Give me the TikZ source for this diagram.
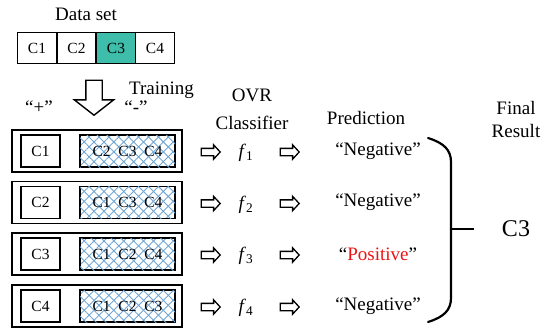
\documentclass[tikz,border=0pt]{standalone}
\usepackage{fontspec}
\setmainfont{Liberation Serif}
\usetikzlibrary{shapes.arrows,patterns.meta}

\definecolor{cellteal}{RGB}{62,189,171}
\definecolor{hatchblue}{RGB}{110,165,212}
\definecolor{posred}{RGB}{235,20,20}

\begin{document}
\begin{tikzpicture}[
        x=1pt, y=-1pt,
        big/.style={font=\fontsize{19}{23}\selectfont},
        cell/.style={draw, line width=1.2pt, minimum width=39pt, minimum height=31pt,
            inner sep=0pt, font=\fontsize{15.5}{16}\selectfont},
        outer/.style={draw, line width=1.4pt, minimum width=170pt, minimum height=42pt, inner sep=0pt},
        posbox/.style={cell, line width=1.4pt, minimum height=32pt},
        negbox/.style={cell, line width=1.4pt, minimum width=95pt, minimum height=32pt,
            pattern={Lines[angle=45, distance=7pt, line width=.9pt]}, pattern color=hatchblue,
            postaction={pattern={Lines[angle=-45, distance=7pt, line width=.9pt]}, pattern color=hatchblue}},
        openarrow/.style={single arrow, draw, line width=1.3pt, inner xsep=0pt, inner ysep=3pt,
            minimum height=19pt, single arrow head extend=3.5pt, single arrow tip angle=95},
        brace/.style={line width=2.2pt, line cap=round},
    ]
    \useasboundingbox (0,0) rectangle (550,335);

    %% the data set, split into four classes
    \node[big] (dataset) at (86,14) {Data set};
    \foreach \c/\x in {1/37, 2/76.5, 3/116, 4/155}{
        \node[cell] (cell\c) at (\x,48) {C\c};
    }
    \node[cell, fill=cellteal] at (cell3) {C3};

    %% training step
    \node[single arrow, draw, line width=1.4pt, inner xsep=0pt, inner ysep=7.5pt, rotate=-90,
        minimum height=35pt, single arrow head extend=11.5pt, single arrow tip angle=104] (train) at (94,94.5) {};
    \node[big] (trainlbl) at (161.5,90) {Training};
    \node[big] (plus) at (39,107) {``+''};
    \node[big] (minus) at (136,107) {``-''};

    %% column titles
    \node[big, align=center, font=\fontsize{19}{28}\selectfont] (ovr) at (252,109) {OVR\\Classifier};
    \node[big] (predlbl) at (366,118) {Prediction};
    \node[big, align=center] (finallbl) at (516,119.5) {Final\\Result};

    %% one row per class: this class against the rest
    \foreach \i/\yy/\rest/\pred in {
            1/151/{C2\enspace C3\enspace C4}/{``Negative''},
            2/202.5/{C1\enspace C3\enspace C4}/{``Negative''},
            3/254/{C1\enspace C2\enspace C4}/{``\textcolor{posred}{Positive}''},
            4/306/{C1\enspace C2\enspace C3}/{``Negative''}}{
        \node[outer] (row\i) at (97,\yy) {};
        \node[posbox] (pos\i) at (40.5,\yy) {C\i};
        \node[negbox] (neg\i) at (127.5,\yy) {\rest};
        \node[openarrow] (in\i) at (209,\yy+1) {};
        \node[big] (f\i) at (246,\yy+2) {\textit{f}\textsubscript{\i}};
        \node[openarrow] (out\i) at (288,\yy+1) {};
        \node[big] (pred\i) at (378,\yy) {\pred};
    }

    %% the brace joins the four predictions into one answer
    \coordinate (bmid) at (451,229);
    \draw[brace] (428,138) .. controls (444,143) and (451,150) .. (451,162)
        -- (451,298) .. controls (451,310) and (444,317) .. (428,322);
    \draw[brace, line cap=butt] (bmid) -- ++(23,0);
    \node[font=\fontsize{24}{28}\selectfont] (final) at (516,229) {C3};
\end{tikzpicture}
\end{document}
